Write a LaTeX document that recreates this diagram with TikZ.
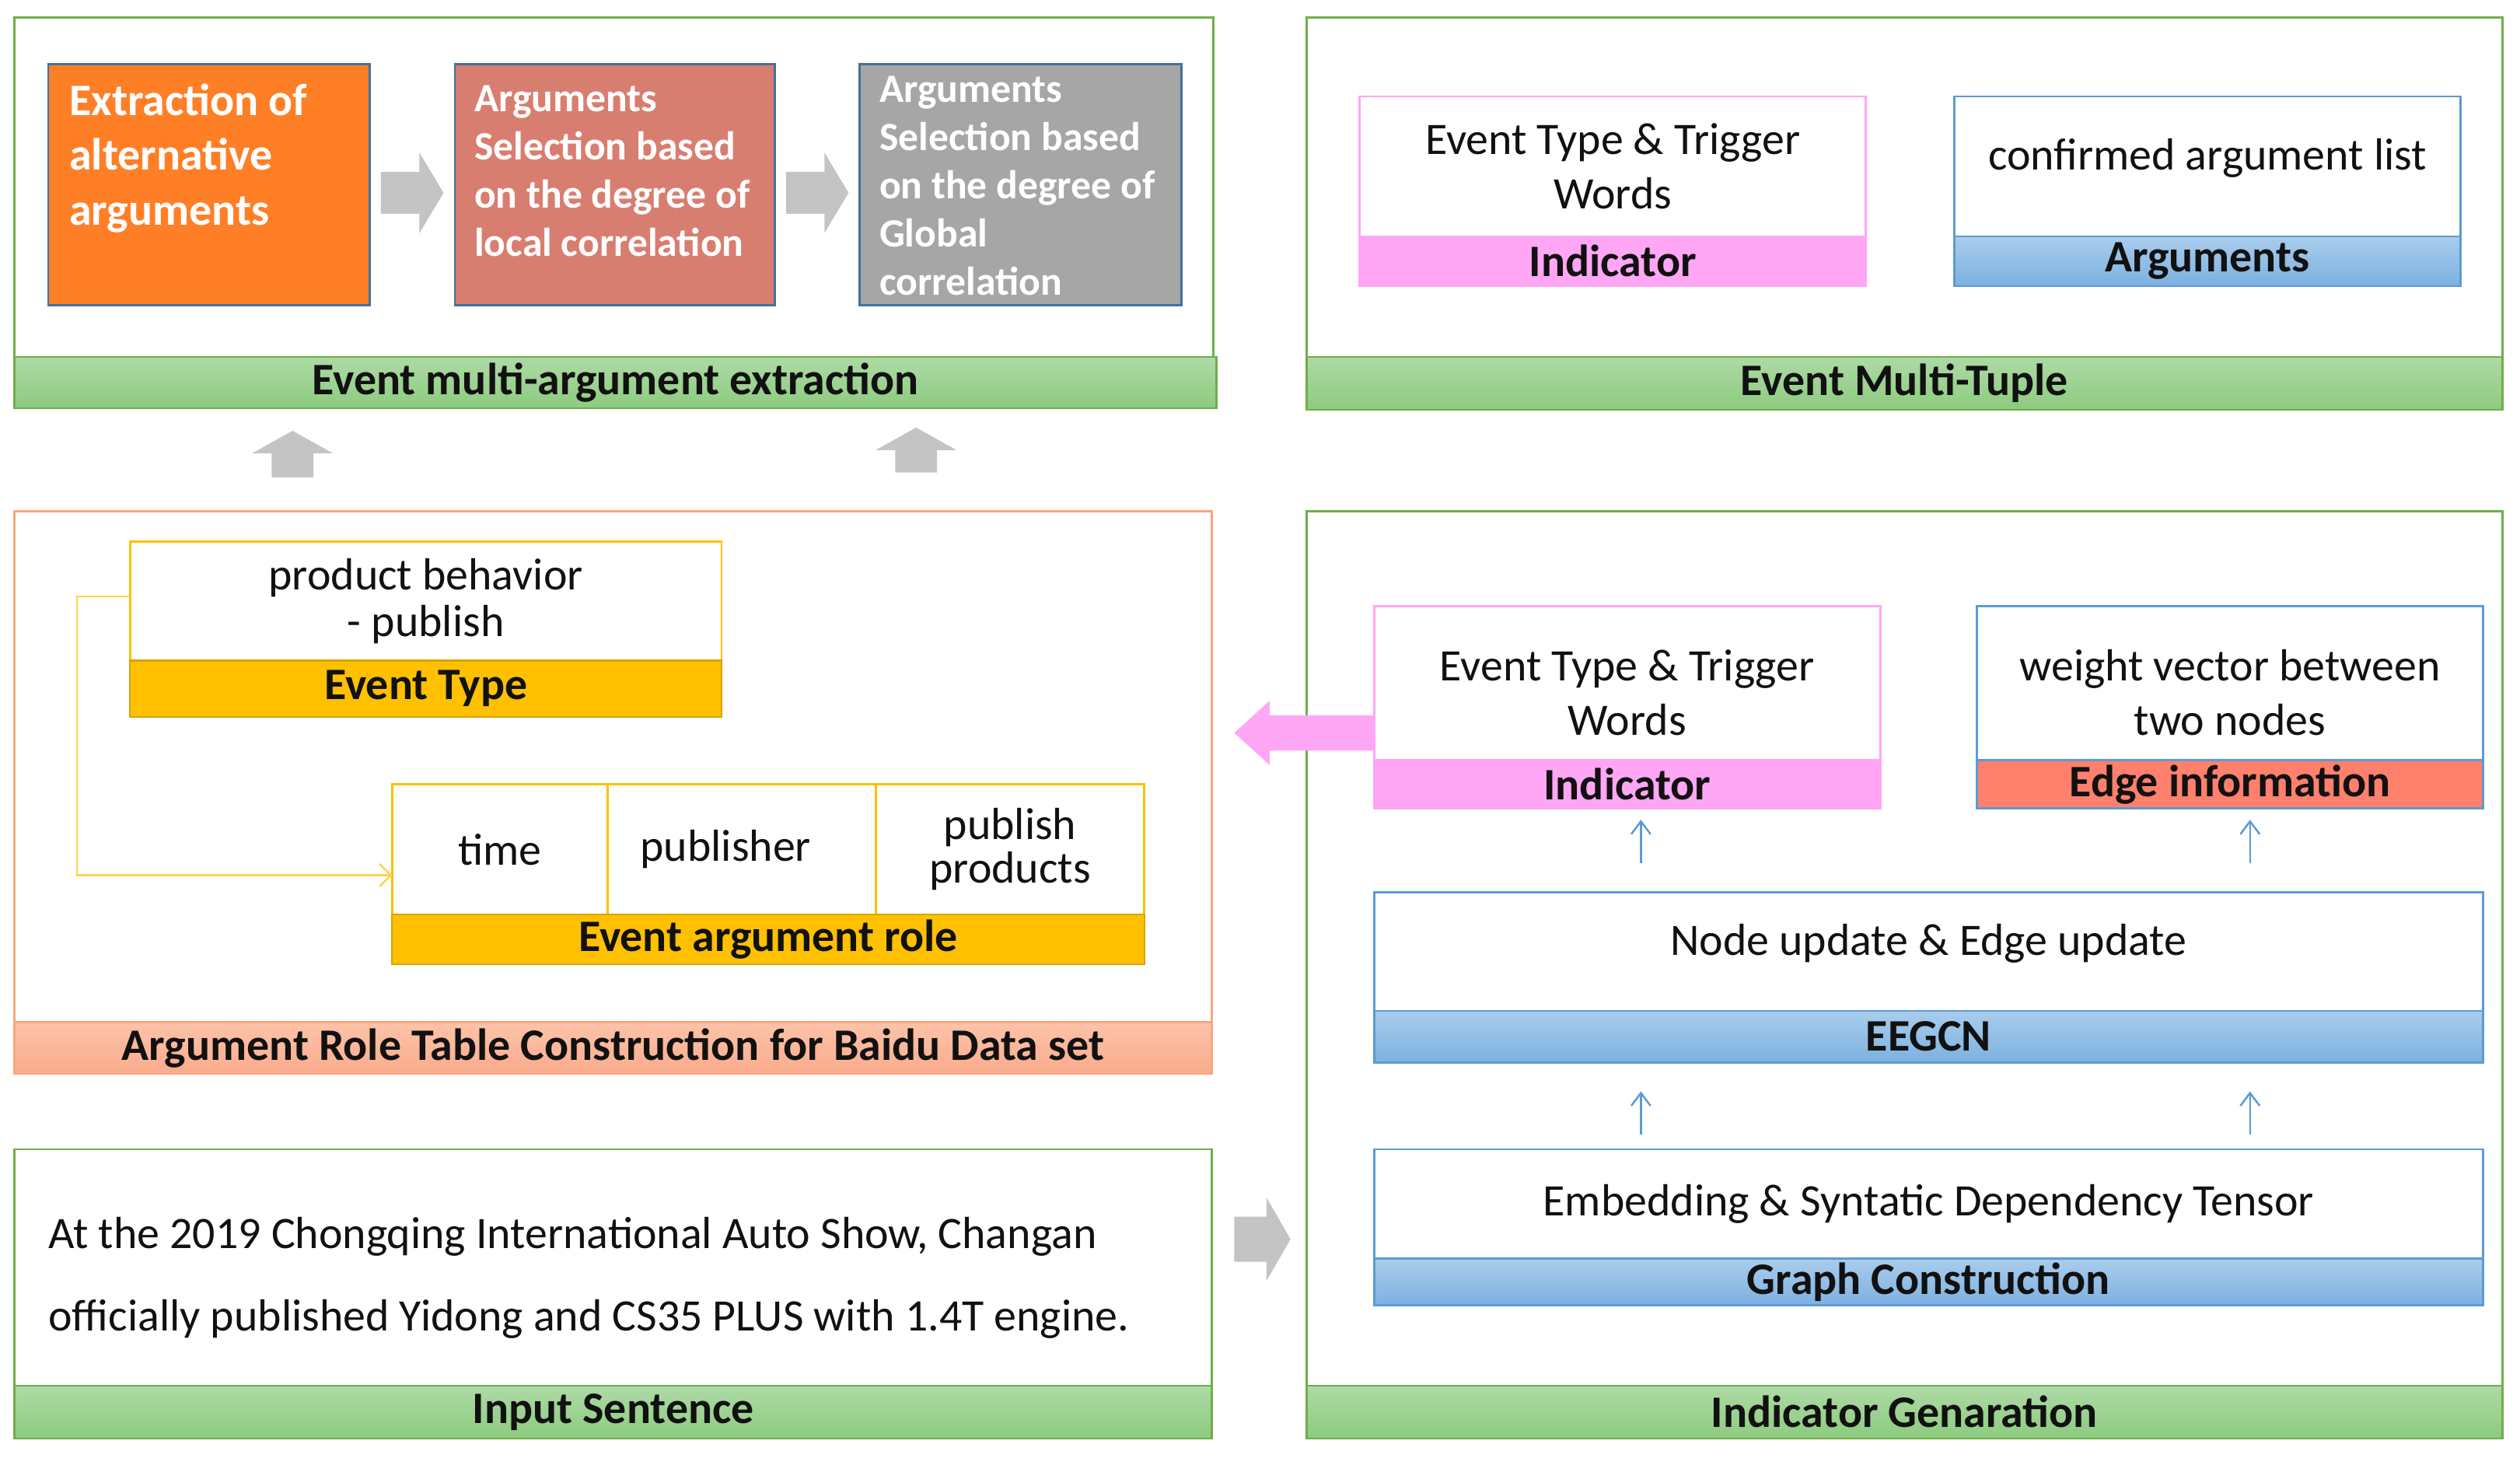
\documentclass[tikz,border=0pt]{standalone}
\usepackage{fontspec}
\setmainfont{Carlito}
\usetikzlibrary{arrows.meta,calc}
\definecolor{gborder}{HTML}{70AD47}
\definecolor{gtop}{HTML}{AEDAA5}
\definecolor{gbot}{HTML}{8CCB7F}
\definecolor{orgbox}{HTML}{FF7F27}
\definecolor{salbox}{HTML}{D87E70}
\definecolor{grybox}{HTML}{A6A6A6}
\definecolor{dkblue}{HTML}{41719C}
\definecolor{pinkc}{HTML}{FFA6F5}
\definecolor{bluec}{HTML}{5B9BD5}
\definecolor{btop}{HTML}{A9CCEC}
\definecolor{bbot}{HTML}{7DB1E0}
\definecolor{edgec}{HTML}{FF806C}
\definecolor{yel}{HTML}{FFC000}
\definecolor{oborder}{HTML}{F8A67E}
\definecolor{otop}{HTML}{FDC3A9}
\definecolor{obot}{HTML}{FAAB8C}
\definecolor{arrg}{HTML}{C4C4C4}
\definecolor{txt}{HTML}{111111}
\tikzset{
  box/.style={rectangle, inner sep=0pt, outer sep=0pt, anchor=north west,
    font=\fontsize{28}{34}\selectfont, align=center, text=txt},
  plaintext/.style={inner sep=0pt, outer sep=0pt, align=center, text=txt,
    font=\fontsize{28}{34}\selectfont},
  bandfont/.style={font=\bfseries\fontsize{28}{32}\selectfont},
  panel/.style={box, draw=gborder, line width=1.2pt},
  gband/.style={box, draw=gborder, line width=1.2pt, top color=gtop, bottom color=gbot, bandfont},
  oband/.style={box, draw=oborder, line width=1.2pt, top color=otop, bottom color=obot, bandfont},
  colbox/.style={box, draw=dkblue, line width=1.3pt},
  wtext/.style={anchor=north west, inner sep=0pt, align=left, text=white,
    font=\bfseries\fontsize{25}{30}\selectfont},
  pinkbody/.style={box, draw=pinkc, line width=1.3pt, fill=white},
  pinkband/.style={box, draw=pinkc, line width=1.3pt, fill=pinkc, bandfont},
  bluebody/.style={box, draw=bluec, line width=1.3pt, fill=white},
  blueband/.style={box, draw=bluec, line width=1.3pt, top color=btop, bottom color=bbot, bandfont},
  edgeband/.style={box, draw=bluec, line width=1.3pt, fill=edgec, bandfont},
  yelbody/.style={box, draw=yel, line width=1.3pt, fill=white},
  yelband/.style={box, draw=yel!85!black, line width=1pt, fill=yel, bandfont},
  bluearr/.style={draw=bluec, line width=1.2pt, -{Straight Barb[length=8pt,width=12pt]}},
  yelline/.style={draw=yel!70, line width=1.2pt, -{Straight Barb[length=7pt,width=14pt]}},
  blockarr/.style={fill=arrg, draw=none},
}
\begin{document}
\begin{tikzpicture}[x=1pt,y=-1pt]
\useasboundingbox[fill=white] (0,0) rectangle (1568,907);

% ---------- Panel 1: Event multi-argument extraction
\node[panel, minimum width=746, minimum height=211] (p1) at (9,11) {};
\node[gband, minimum width=748, minimum height=32] (p1b) at (9,222) {Event multi-argument extraction};
\node[colbox, fill=orgbox, minimum width=200, minimum height=150] (b1) at (30,40) {};
\node[colbox, fill=salbox, minimum width=199, minimum height=150] (b2) at (283,40) {};
\node[colbox, fill=grybox, minimum width=200, minimum height=150] (b3) at (535,40) {};
\node[wtext, font=\bfseries\fontsize{28}{34}\selectfont] (t1) at (43,52) {Extraction of\\alternative\\arguments};
\node[wtext] (t2) at (295,53) {Arguments\\Selection based\\on the degree of\\local correlation};
\node[wtext] (t3) at (547,47) {Arguments\\Selection based\\on the degree of\\Global\\correlation};
\fill[blockarr] (237,107) -- (261,107) -- (261,95) -- (276,120) -- (261,145) -- (261,133) -- (237,133) -- cycle;
\fill[blockarr] (489,107) -- (513,107) -- (513,95) -- (528,120) -- (513,145) -- (513,133) -- (489,133) -- cycle;

% ---------- Panel 2: Event Multi-Tuple
\node[panel, minimum width=744, minimum height=211] (p2) at (813,11) {};
\node[gband, minimum width=744, minimum height=33] (p2b) at (813,222) {Event Multi-Tuple};
\node[pinkbody, minimum width=315, minimum height=87] (m1) at (846,60) {Event Type \& Trigger\\Words};
\node[pinkband, minimum width=315, minimum height=31] (m1b) at (846,147) {Indicator};
\node[bluebody, minimum width=315, minimum height=87] (m2) at (1216,60) {};
\node[plaintext] (m2t) at ($(m2.center)+(0,-5)$) {confirmed argument list};
\node[blueband, minimum width=315, minimum height=31] (m2b) at (1216,147) {Arguments};

% ---------- up arrows between panels
\fill[blockarr] (169,297) -- (169,282) -- (157,282) -- (182,268) -- (207,282) -- (195,282) -- (195,297) -- cycle;
\fill[blockarr] (557,294) -- (557,280) -- (545,280) -- (570,266) -- (595,280) -- (583,280) -- (583,294) -- cycle;

% ---------- Panel 3: Argument Role Table
\node[box, draw=oborder, line width=1.2pt, minimum width=745, minimum height=318] (p3) at (9,318) {};
\node[oband, minimum width=745, minimum height=32] (p3b) at (9,636) {Argument Role Table Construction for Baidu Data set};
\node[yelbody, minimum width=368, minimum height=74, font=\fontsize{28}{29}\selectfont] (et) at (81,337) {product behavior\\- publish};
\node[yelband, minimum width=368, minimum height=35] (etb) at (81,411) {Event Type};
\node[yelbody, minimum width=134, minimum height=81] (c1) at (244,488) {time};
\node[yelbody, minimum width=167, minimum height=81] (c2) at (378,488) {};
\node[plaintext] (c2t) at ($(c2.center)+(-10,0)$) {publisher};
\node[yelbody, minimum width=167, minimum height=81, font=\fontsize{28}{27}\selectfont] (c3) at (545,488) {publish\\products};
\node[yelband, minimum width=468, minimum height=31] (arb) at (244,569) {Event argument role};
\draw[yelline] ([yshift=3pt]et.west) -- ++(-33,0) |- ([yshift=-16pt]c1.west);

% ---------- Panel 4: Indicator Generation
\node[panel, minimum width=744, minimum height=544] (p4) at (813,318) {};
\node[gband, minimum width=744, minimum height=33] (p4b) at (813,862) {Indicator Genaration};
\node[pinkbody, minimum width=315, minimum height=96] (i1) at (855,377) {};
\node[plaintext] (i1t) at ($(i1.center)+(0,6)$) {Event Type \& Trigger\\Words};
\node[pinkband, minimum width=315, minimum height=30] (i1b) at (855,473) {Indicator};
\node[bluebody, minimum width=315, minimum height=96] (i2) at (1230,377) {};
\node[plaintext] (i2t) at ($(i2.center)+(0,6)$) {weight vector between\\two nodes};
\node[edgeband, minimum width=315, minimum height=30] (i2b) at (1230,473) {Edge information};
\node[bluebody, minimum width=690, minimum height=74] (eg) at (855,555) {};
\node[plaintext] (egt) at ($(eg.center)+(0,-5)$) {Node update \& Edge update};
\node[blueband, minimum width=690, minimum height=32] (egb) at (855,629) {EEGCN};
\node[bluebody, minimum width=690, minimum height=68] (gc) at (855,715) {Embedding \& Syntatic Dependency Tensor};
\node[blueband, minimum width=690, minimum height=29] (gcb) at (855,783) {Graph Construction};
\coordinate (ax1) at (1021,0);
\coordinate (ax2) at (1400,0);
\draw[bluearr, shorten <=18pt, shorten >=7pt] (ax1 |- eg.north) -- (ax1 |- i1b.south);
\draw[bluearr, shorten <=18pt, shorten >=7pt] (ax2 |- eg.north) -- (ax2 |- i2b.south);
\draw[bluearr, shorten <=9pt, shorten >=18pt] (ax1 |- gc.north) -- (ax1 |- egb.south);
\draw[bluearr, shorten <=9pt, shorten >=18pt] (ax2 |- gc.north) -- (ax2 |- egb.south);

% pink arrow from indicator to argument role table
\fill[pinkc] (855,445) -- (790,445) -- (790,436) -- (768,456) -- (790,476) -- (790,467) -- (855,467) -- cycle;

% ---------- Panel 5: Input sentence
\node[panel, minimum width=745, minimum height=147] (p5) at (9,715) {};
\node[gband, minimum width=745, minimum height=33] (p5b) at (9,862) {Input Sentence};
\node[anchor=west, inner sep=0pt, align=left, text=txt, font=\fontsize{28}{51}\selectfont] (sent) at (30,795)
  {At the 2019 Chongqing International Auto Show, Changan\\officially published Yidong and CS35 PLUS with 1.4T engine.};
\fill[blockarr] (768,757) -- (788,757) -- (788,745) -- (803,771) -- (788,797) -- (788,785) -- (768,785) -- cycle;
\end{tikzpicture}
\end{document}
